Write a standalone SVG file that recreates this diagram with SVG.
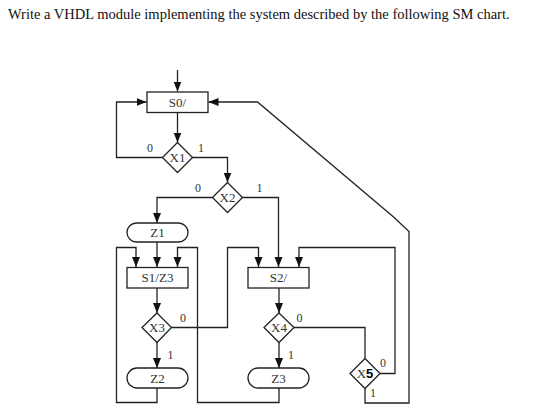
<svg xmlns="http://www.w3.org/2000/svg" width="543" height="419" viewBox="0 0 543 419">
<defs>
<marker id="ah" markerWidth="10" markerHeight="10" viewBox="0 0 10 10" refX="10" refY="5" orient="auto" markerUnits="userSpaceOnUse">
<path d="M0,1 L10,5 L0,9 Z" fill="#111"/>
</marker>
</defs>
<style>
.ln{fill:none;stroke:#222;stroke-width:1.3}
.ar{fill:none;stroke:#222;stroke-width:1.3;marker-end:url(#ah)}
.bx{fill:#fff;stroke:#222;stroke-width:1.3}
text{font-family:'Liberation Serif','Times New Roman',serif}
.t{font-size:13px;fill:#333;text-anchor:middle}
.lb{font-size:12px;fill:#333;text-anchor:middle}
.title{font-size:14.5px;fill:#111}
</style>
<rect width="543" height="419" fill="#fff"/>
<text class="title" x="8" y="19">Write a VHDL module implementing the system described by the following SM chart.</text>
<g id="connectors">
<path class="ar" d="M177.5,70 V91.5"/>
<path class="ar" d="M177.5,112.5 V142.5"/>
<path class="ar" d="M162.5,157.5 H116.5 V102 H146.5"/>
<path class="ar" d="M192.5,157.5 H227.5 V182.5"/>
<path class="ar" d="M212.5,197.5 H157 V223"/>
<path class="ar" d="M242.5,197.5 H278.5 V267"/>
<path class="ar" d="M157,242 V267"/>
<path class="ar" d="M157,288 V313"/>
<path class="ar" d="M157,342.5 V368"/>
<path class="ar" d="M157,388 V402.5 H116.5 V247.5 H136 V267"/>
<path class="ar" d="M279,388 V402.5 H197.5 V247.5 H177.5 V267"/>
<path class="ar" d="M171.5,327.5 H227.5 V247.5 H258.5 V267"/>
<path class="ar" d="M279,288 V313"/>
<path class="ar" d="M279,342.5 V368"/>
<path class="ln" d="M294,327.5 H365 V358.5"/>
<path class="ar" d="M380,373.5 H395 V247.5 H299 V267"/>
<path class="ar" d="M365,388.5 V403 H409 V231.5 L393,216.5 L257.5,102 H208.5"/>
</g>
<g id="S0"><rect class="bx" x="147" y="92" width="61" height="20.5"/><text class="t" x="177.5" y="106.5">S0/</text></g>
<g id="X1"><path class="bx" d="M177.5,142.5 L192.5,157.5 L177.5,172.5 L162.5,157.5 Z"/><text class="t" x="177.5" y="162">X1</text><text class="lb" x="150" y="152">0</text><text class="lb" x="201" y="152">1</text></g>
<g id="X2"><path class="bx" d="M227.5,182.5 L242.5,197.5 L227.5,212.5 L212.5,197.5 Z"/><text class="t" x="227.5" y="202">X2</text><text class="lb" x="198" y="192">0</text><text class="lb" x="259.5" y="192">1</text></g>
<g id="Z1"><rect class="bx" x="127" y="223" width="61" height="19" rx="9.5"/><text class="t" x="157.5" y="237">Z1</text></g>
<g id="S1"><rect class="bx" x="127" y="267.5" width="61" height="20.5"/><text class="t" x="157.5" y="282">S1/Z3</text></g>
<g id="X3"><path class="bx" d="M157,313 L171.5,327.5 L157,342.5 L142,327.5 Z"/><text class="t" x="157" y="332">X3</text><text class="lb" x="183" y="322">0</text><text class="lb" x="170.5" y="359">1</text></g>
<g id="Z2"><rect class="bx" x="127" y="368" width="61" height="20" rx="10"/><text class="t" x="157.5" y="382.5">Z2</text></g>
<g id="S2"><rect class="bx" x="248" y="267.5" width="61" height="20.5"/><text class="t" x="278.5" y="282">S2/</text></g>
<g id="X4"><path class="bx" d="M279,313 L294,327.5 L279,342.5 L264,327.5 Z"/><text class="t" x="279" y="332">X4</text><text class="lb" x="299.5" y="322">0</text><text class="lb" x="291" y="359">1</text></g>
<g id="Z3"><rect class="bx" x="248" y="368" width="61" height="20" rx="10"/><text class="t" x="278.5" y="382.5">Z3</text></g>
<g id="X5"><path class="bx" d="M365,358.5 L380,373.5 L365,388.5 L350,373.5 Z"/><text class="t" x="365" y="378"><tspan>X</tspan><tspan font-family="Liberation Sans, sans-serif" font-weight="bold" fill="#000">5</tspan></text><text class="lb" x="383" y="367">0</text><text class="lb" x="373" y="397">1</text></g>
</svg>
